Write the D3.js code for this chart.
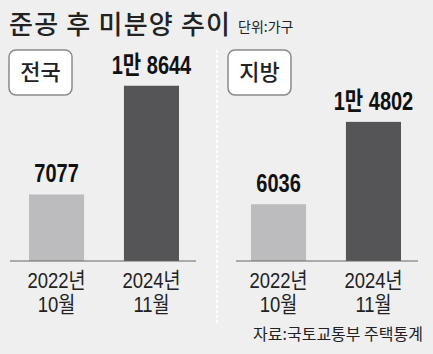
<!DOCTYPE html>
<html>
<head>
<meta charset="utf-8">
<script src="https://cdn.jsdelivr.net/npm/d3@7"></script>
<style>
  body { margin: 0; background: #efefef; }
  svg { display: block; font-family: "Noto Sans CJK KR", "Noto Sans", sans-serif; }
  .narrow { font-family: "Liberation Sans", "Noto Sans CJK KR", sans-serif; }
</style>
</head>
<body>
<div id="chart"></div>
<script>
// Data
var panels = ["전국", "지방"];
var periods = ["2022년\n10월", "2024년\n11월"];
var nationalValues = [7077, 18644];
var localValues = [6036, 14802];
var valueLabels = [["7077", "1만 8644"], ["6036", "1만 4802"]];

var svgWidth = 433;
var svgHeight = 354;
var condense = 0.84;

var svg = d3.select("#chart").append("svg")
  .attr("width", svgWidth)
  .attr("height", svgHeight);

svg.append("rect")
  .attr("width", svgWidth)
  .attr("height", svgHeight)
  .attr("fill", "#efefef");

// squeeze a text horizontally, like a narrow font
function squeeze(sel, f) {
  sel.each(function () {
    var w = this.getComputedTextLength();
    d3.select(this)
      .attr("textLength", w * f)
      .attr("lengthAdjust", "spacingAndGlyphs");
  });
}

// Title
svg.append("text")
  .attr("x", 9)
  .attr("y", 34)
  .attr("font-size", 26)
  .attr("font-weight", 500)
  .attr("fill", "#222")
  .attr("textLength", 221)
  .text("준공 후 미분양 추이");

svg.append("text")
  .attr("x", 238)
  .attr("y", 32)
  .attr("font-size", 14)
  .attr("fill", "#222")
  .text("단위:가구");

// Shared y scale
var baseline = 261;
var y = d3.scaleLinear()
  .domain([0, 20000])
  .range([baseline, 73]);

// Panel layout
var panelX = [
  { left: 10, right: 196, barStart: 29, barEnd: 179, box: 9 },
  { left: 236, right: 418, barStart: 251, barEnd: 401, box: 228 }
];
var allValues = [nationalValues, localValues];
var colors = ["#bcbcbe", "#555557"];

panels.forEach(function (name, i) {
  var p = panelX[i];
  var g = svg.append("g");

  var x = d3.scaleBand()
    .domain(periods)
    .range([p.barStart, p.barEnd])
    .paddingInner(0.42)
    .paddingOuter(0);

  // Label box
  g.append("rect")
    .attr("x", p.box)
    .attr("y", 50)
    .attr("width", 63)
    .attr("height", 45)
    .attr("rx", 7)
    .attr("fill", "#fff")
    .attr("stroke", "#8a8a8a")
    .attr("stroke-width", 1.5);

  g.append("text")
    .attr("x", p.box + 31.5)
    .attr("y", 80)
    .attr("text-anchor", "middle")
    .attr("font-size", 22)
    .attr("font-weight", 500)
    .attr("fill", "#222")
    .text(name);

  // Bars
  g.selectAll(".bar")
    .data(allValues[i])
    .enter()
    .append("rect")
    .attr("x", function (d, j) { return x(periods[j]); })
    .attr("y", function (d) { return y(d); })
    .attr("width", x.bandwidth())
    .attr("height", function (d) { return baseline - y(d); })
    .attr("fill", function (d, j) { return colors[j]; });

  // Value labels
  g.selectAll(".val")
    .data(allValues[i])
    .enter()
    .append("text")
    .attr("class", "narrow")
    .attr("x", function (d, j) { return x(periods[j]) + x.bandwidth() / 2; })
    .attr("y", function (d) { return y(d) - 12; })
    .attr("text-anchor", "middle")
    .attr("font-size", 25)
    .attr("font-weight", "bold")
    .attr("fill", "#111")
    .text(function (d, j) { return valueLabels[i][j]; })
    .call(squeeze, 0.8);

  // Axis line
  g.append("line")
    .attr("x1", p.left)
    .attr("x2", p.right)
    .attr("y1", baseline)
    .attr("y2", baseline)
    .attr("stroke", "#666")
    .attr("stroke-width", 1.2);

  // Category labels
  periods.forEach(function (c) {
    var cx = x(c) + x.bandwidth() / 2;
    c.split("\n").forEach(function (s, k) {
      g.append("text")
        .attr("class", "narrow")
        .attr("x", cx)
        .attr("y", 288 + k * 24)
        .attr("text-anchor", "middle")
        .attr("font-size", 22)
        .attr("fill", "#222")
        .text(s)
        .call(squeeze, condense);
    });
  });
});

// Dashed divider
svg.append("line")
  .attr("x1", 217)
  .attr("x2", 217)
  .attr("y1", 50)
  .attr("y2", 325)
  .attr("stroke", "#fff")
  .attr("stroke-width", 2)
  .attr("stroke-dasharray", "3,2");

// Source
svg.append("text")
  .attr("x", 423)
  .attr("y", 340)
  .attr("text-anchor", "end")
  .attr("font-size", 16)
  .attr("fill", "#222")
  .text("자료:국토교통부 주택통계");
</script>
</body>
</html>
